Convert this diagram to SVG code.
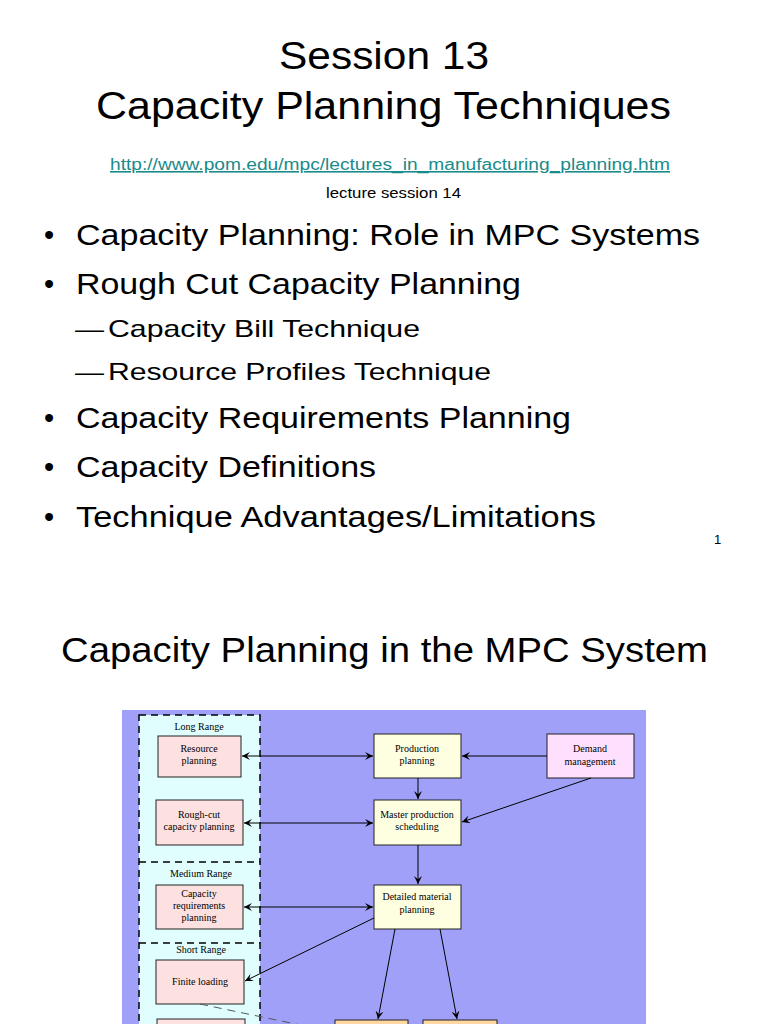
<svg xmlns="http://www.w3.org/2000/svg" width="768" height="1024" viewBox="0 0 768 1024">
<defs>
<marker id="ah" viewBox="0 0 10 10" refX="10" refY="5" markerWidth="8" markerHeight="8" orient="auto-start-reverse" markerUnits="userSpaceOnUse"><path d="M0,0 L10,5 L0,10 L4,5 z" fill="#000"/></marker>
</defs>
<style>
.s{font-family:"Liberation Sans",Arial,sans-serif;fill:#000}
.d{font-family:"Liberation Serif","Times New Roman",serif;font-size:10px;fill:#000;text-anchor:middle}
.pk{fill:#fde0e0;stroke:#222;stroke-width:1}
.yl{fill:#fefee0;stroke:#222;stroke-width:1}
.c{stroke:#000;stroke-width:1;fill:none}
</style>
<rect width="768" height="1024" fill="#fff"/>
<text class="s" x="279" y="69" font-size="38" textLength="210" lengthAdjust="spacingAndGlyphs">Session 13</text>
<text class="s" x="96" y="119" font-size="38" textLength="575" lengthAdjust="spacingAndGlyphs">Capacity Planning Techniques</text>
<text class="s" x="110" y="170" font-size="16" style="fill:#1a8a8a" text-decoration="underline" textLength="560" lengthAdjust="spacingAndGlyphs">http://www.pom.edu/mpc/lectures_in_manufacturing_planning.htm</text>
<text class="s" x="326" y="198" font-size="15" textLength="135" lengthAdjust="spacingAndGlyphs">lecture session 14</text>
<g class="s" font-size="29">
<text x="44" y="245">•</text><text x="76" y="245" textLength="624" lengthAdjust="spacingAndGlyphs">Capacity Planning: Role in MPC Systems</text>
<text x="44" y="294">•</text><text x="76" y="294" textLength="445" lengthAdjust="spacingAndGlyphs">Rough Cut Capacity Planning</text>
<text x="44" y="428">•</text><text x="76" y="428" textLength="495" lengthAdjust="spacingAndGlyphs">Capacity Requirements Planning</text>
<text x="44" y="477">•</text><text x="76" y="477" textLength="300" lengthAdjust="spacingAndGlyphs">Capacity Definitions</text>
<text x="44" y="527">•</text><text x="76" y="527" textLength="520" lengthAdjust="spacingAndGlyphs">Technique Advantages/Limitations</text>
</g>
<g class="s" font-size="24">
<text x="75" y="337" textLength="29" lengthAdjust="spacingAndGlyphs">–</text><text x="108" y="337" textLength="312" lengthAdjust="spacingAndGlyphs">Capacity Bill Technique</text>
<text x="75" y="380" textLength="29" lengthAdjust="spacingAndGlyphs">–</text><text x="108" y="380" textLength="383" lengthAdjust="spacingAndGlyphs">Resource Profiles Technique</text>
</g>
<text class="s" x="714" y="544" font-size="13">1</text>
<text class="s" x="61" y="662" font-size="35" textLength="647" lengthAdjust="spacingAndGlyphs">Capacity Planning in the MPC System</text>
<rect x="122" y="710" width="524" height="320" fill="#a0a0f8"/>
<g id="panel">
<rect x="139" y="715" width="121" height="320" fill="#e0fefe" stroke="#000" stroke-width="1.5" stroke-dasharray="7,5"/>
<line x1="139" y1="862" x2="260" y2="862" stroke="#000" stroke-width="1.5" stroke-dasharray="7,5"/>
<line x1="139" y1="943" x2="260" y2="943" stroke="#000" stroke-width="1.5" stroke-dasharray="7,5"/>
<text class="d" x="199" y="730">Long Range</text>
<text class="d" x="201" y="877">Medium Range</text>
<text class="d" x="201" y="953">Short Range</text>
</g>
<g id="n1"><rect class="pk" x="158" y="736" width="83" height="41"/><text class="d" x="199" y="752">Resource</text><text class="d" x="199" y="764">planning</text></g>
<g id="n2"><rect class="pk" x="156" y="800" width="87" height="45"/><text class="d" x="199" y="818">Rough-cut</text><text class="d" x="199" y="830">capacity planning</text></g>
<g id="n3"><rect class="pk" x="156" y="885" width="87" height="44"/><text class="d" x="199" y="897">Capacity</text><text class="d" x="199" y="909">requirements</text><text class="d" x="199" y="921">planning</text></g>
<g id="n4"><rect class="pk" x="156" y="960" width="88" height="44"/><text class="d" x="200" y="985">Finite loading</text></g>
<g id="n5"><rect class="pk" x="157" y="1019" width="88" height="20"/></g>
<g id="n6"><rect class="yl" x="374" y="734" width="87" height="44"/><text class="d" x="417" y="752">Production</text><text class="d" x="417" y="764">planning</text></g>
<g id="n7"><rect x="547" y="734" width="87" height="44" fill="#fee0fe" stroke="#222"/><text class="d" x="590" y="752">Demand</text><text class="d" x="590" y="765">management</text></g>
<g id="n8"><rect class="yl" x="374" y="800" width="87" height="45"/><text class="d" x="417" y="818">Master production</text><text class="d" x="417" y="830">scheduling</text></g>
<g id="n9"><rect class="yl" x="374" y="885" width="87" height="44"/><text class="d" x="417" y="900">Detailed material</text><text class="d" x="417" y="913">planning</text></g>
<g id="n10"><rect x="335" y="1020" width="73" height="20" fill="#fed8a0" stroke="#222"/></g>
<g id="n11"><rect x="423" y="1020" width="74" height="20" fill="#fed8a0" stroke="#222"/></g>
<g id="connectors">
<line class="c" x1="242" y1="756" x2="373" y2="756" marker-start="url(#ah)" marker-end="url(#ah)"/>
<line class="c" x1="244" y1="823" x2="373" y2="823" marker-start="url(#ah)" marker-end="url(#ah)"/>
<line class="c" x1="244" y1="907" x2="373" y2="907" marker-start="url(#ah)" marker-end="url(#ah)"/>
<line class="c" x1="547" y1="756" x2="462" y2="756" marker-end="url(#ah)"/>
<line class="c" x1="418" y1="778" x2="418" y2="799" marker-end="url(#ah)"/>
<line class="c" x1="591" y1="778" x2="462" y2="822" marker-end="url(#ah)"/>
<line class="c" x1="418" y1="845" x2="418" y2="884" marker-end="url(#ah)"/>
<line class="c" x1="374" y1="918" x2="245" y2="981" marker-end="url(#ah)"/>
<line class="c" x1="395" y1="929" x2="378" y2="1019" marker-end="url(#ah)"/>
<line class="c" x1="440" y1="929" x2="457" y2="1019" marker-end="url(#ah)"/>
<line x1="200" y1="1004" x2="305" y2="1026" stroke="#555" stroke-dasharray="8,6"/>
</g>
</svg>
